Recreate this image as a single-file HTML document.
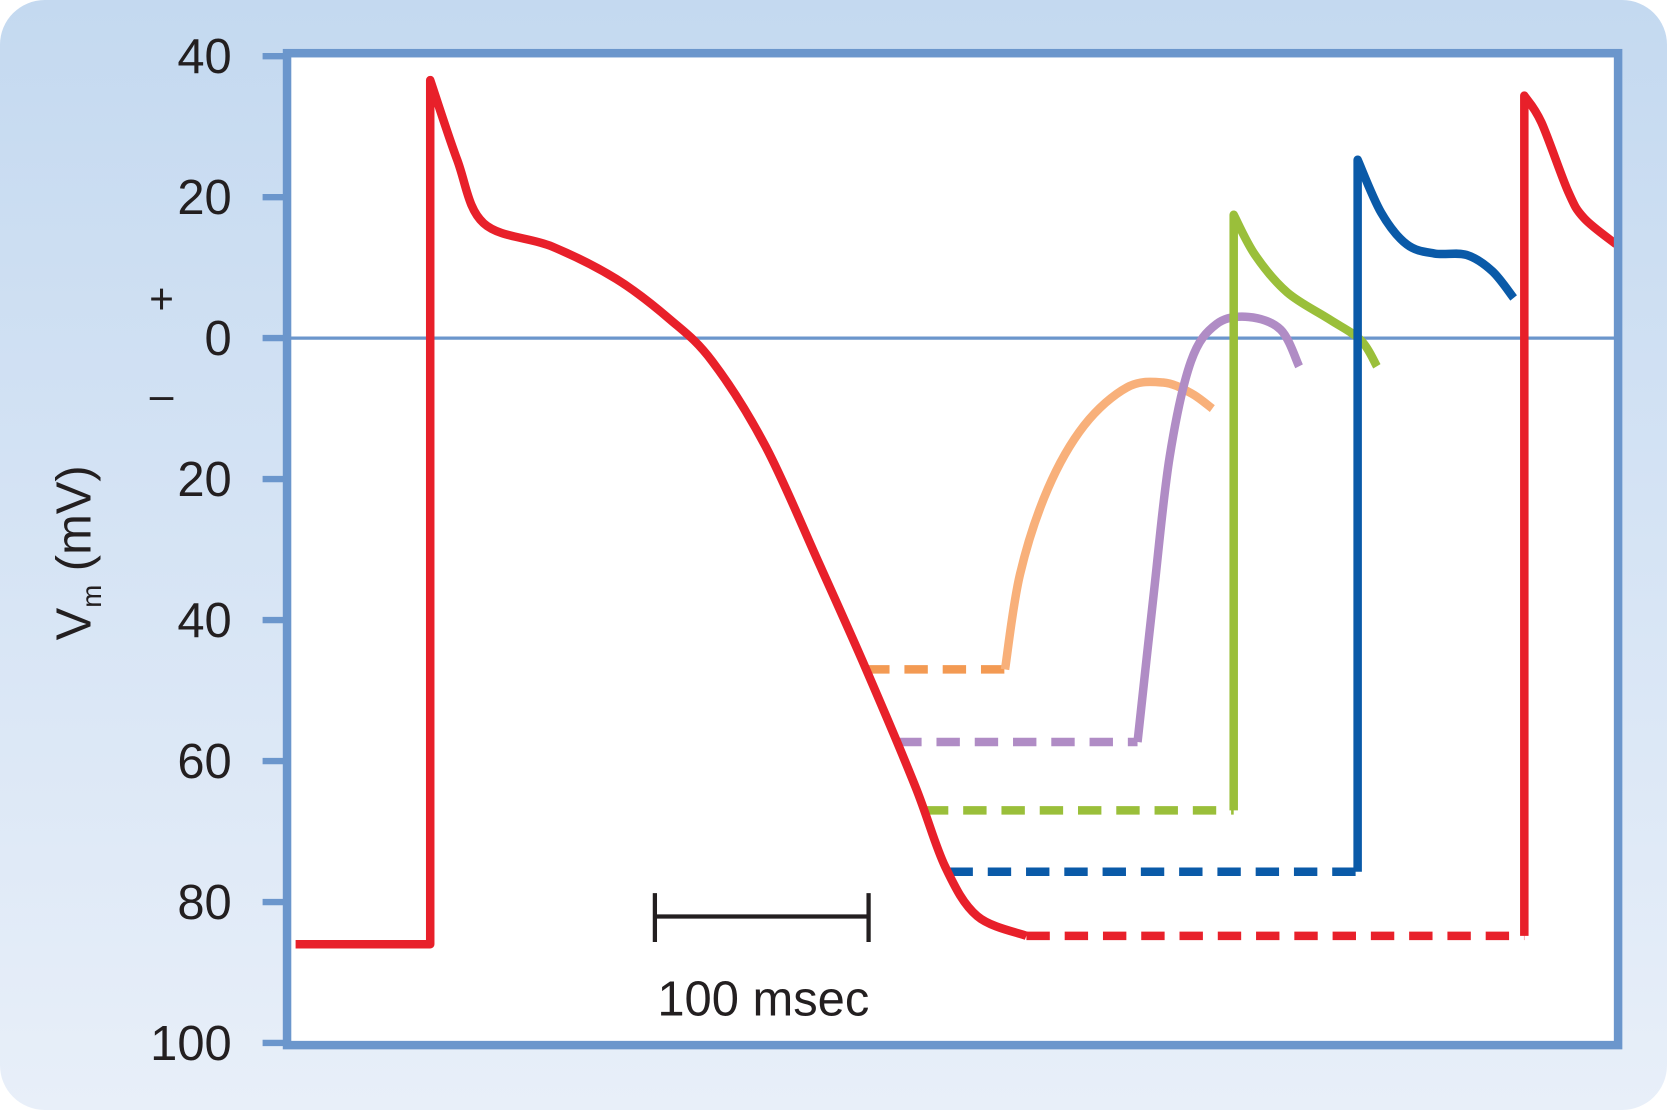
<!DOCTYPE html>
<html><head><meta charset="utf-8"><style>
html,body{margin:0;padding:0;background:#fff}
svg{display:block}
text{font-family:"Liberation Sans",sans-serif;fill:#231f20}
</style></head><body>
<svg id="chart" width="1667" height="1110" viewBox="0 0 1568 1044">
<defs><linearGradient id="bg" x1="0" y1="0" x2="0" y2="1"><stop offset="0" stop-color="#c4d9f0"/><stop offset="1" stop-color="#e8eff9"/></linearGradient>
<clipPath id="pc"><rect x="270" y="50" width="1252" height="933"/></clipPath></defs>
<rect x="0" y="0" width="1568" height="1044" rx="42" fill="url(#bg)"/>
<rect x="270" y="50" width="1252" height="933" fill="#fff"/>
<g id="axes"></g>
<g id="series" clip-path="url(#pc)"></g>
<rect x="270" y="50" width="1252" height="933" fill="none" stroke="#6b96cc" stroke-width="8"/>
<text x="152" y="295" font-size="40" text-anchor="middle">+</text>
<text x="152" y="385" font-size="40" text-anchor="middle">–</text>
<text transform="translate(85,520) rotate(-90)" font-size="46" text-anchor="middle">V<tspan font-size="26" dy="10">m</tspan><tspan dy="-10"> (mV)</tspan></text>
<g>
<line x1="616" y1="862" x2="817" y2="862" stroke="#231f20" stroke-width="4"/>
<line x1="616" y1="840" x2="616" y2="886" stroke="#231f20" stroke-width="4"/>
<line x1="817" y1="840" x2="817" y2="886" stroke="#231f20" stroke-width="4"/>
<text x="718" y="955" font-size="46" text-anchor="middle">100 msec</text>
</g>
</svg>
<script>
const tickValues=[40,20,0,-20,-40,-60,-80,-100];
const tickLabels=["40","20","0","20","40","60","80","100"];
const redT=[4,67,67,79.6,92,124,154,179,199,224,249,271,294,308,323,346];
const redV=[-86,-86,36.6,25.3,16.3,13,8.4,2.7,-3.3,-15.4,-32,-47,-63.6,-75,-82,-84.8];
const redDashT=[346,579];
const redDashV=[-84.8,-84.8];
const red2T=[579,579,587,599.5,607,622];
const red2V=[-84.8,34.4,30.6,20.8,17,13.3];
const orangeDashT=[271,336];
const orangeDashV=[-47,-47];
const orangeT=[336,343,356,373,393,410,423,433];
const orangeV=[-47,-33.5,-21.4,-12.4,-7,-6.3,-7.8,-10];
const purpleDashT=[286,398];
const purpleDashV=[-57.3,-57.3];
const purpleT=[398,405.5,413,423,435,450,465,473.6];
const purpleV=[-57.3,-36.5,-16.9,-3.3,2,3,1.2,-4];
const greenDashT=[298.5,443];
const greenDashV=[-67,-67];
const greenT=[443,443,453,468,487.6,502.5,510];
const greenV=[-67,17.5,11.8,6.5,2.7,-0.3,-4];
const blueDashT=[310,501];
const blueDashV=[-75.7,-75.7];
const blueT=[501,501,512,524,537,552,564,574];
const blueV=[-75.7,25.3,17.8,13.3,12,11.8,9.5,5.7];

const NS="http://www.w3.org/2000/svg";
const X=t=>270+t*2.01;
const Y=v=>318-v*6.63;
const axes=document.getElementById('axes');
const ser=document.getElementById('series');
tickValues.forEach((v,i)=>{
  const l=document.createElementNS(NS,'line');
  l.setAttribute('x1',247);l.setAttribute('x2',270);l.setAttribute('y1',Y(v));l.setAttribute('y2',Y(v));
  l.setAttribute('stroke','#6b96cc');l.setAttribute('stroke-width','6');
  
  
  axes.appendChild(l);
  const t=document.createElementNS(NS,'text');
  t.setAttribute('x',218);t.setAttribute('y',Y(v)+16);t.setAttribute('font-size','46');t.setAttribute('text-anchor','end');
  t.textContent=tickLabels[i];
  
  
  axes.appendChild(t);
});
const z=document.createElementNS(NS,'line');
z.setAttribute('x1',270);z.setAttribute('x2',1522);z.setAttribute('y1',Y(0));z.setAttribute('y2',Y(0));
z.setAttribute('stroke','#6b96cc');z.setAttribute('stroke-width','3');


axes.appendChild(z);

function smooth(ts,vs){
  const p=ts.map((t,i)=>[X(t),Y(vs[i])]);
  let d='M'+p[0][0]+','+p[0][1];
  for(let i=1;i<p.length;i++){
    const p1=p[i-1],p2=p[i];
    if(Math.abs(p1[0]-p2[0])<0.5||Math.abs(p1[1]-p2[1])<0.5&&i===1){d+=' L'+p2[0]+','+p2[1];continue;}
    let a=p[i-2]||p1; if(Math.abs(a[0]-p1[0])<0.5) a=p1;
    let b=p[i+1]||p2; if(Math.abs(b[0]-p2[0])<0.5) b=p2;
    const c1=[p1[0]+(p2[0]-a[0])/6,p1[1]+(p2[1]-a[1])/6];
    const c2=[p2[0]-(b[0]-p1[0])/6,p2[1]-(b[1]-p1[1])/6];
    d+=' C'+c1[0]+','+c1[1]+' '+c2[0]+','+c2[1]+' '+p2[0]+','+p2[1];
  }
  return d;
}
function draw(ts,vs,color,dashed,name){
  const p=document.createElementNS(NS,'path');
  p.setAttribute('d',dashed?('M'+X(ts[0])+','+Y(vs[0])+' L'+X(ts[1])+','+Y(vs[1])):smooth(ts,vs));
  p.setAttribute('fill','none');p.setAttribute('stroke',color);p.setAttribute('stroke-width','8');
  p.setAttribute('stroke-linejoin','round');
  if(dashed)p.setAttribute('stroke-dasharray','22 14');
  
  
  ser.appendChild(p);
}
draw(orangeDashT,orangeDashV,'#f39a53',true,'orange-threshold-dashed');
draw(orangeT,orangeV,'#f8b07a',false,'orange-response');
draw(purpleDashT,purpleDashV,'#b08cc5',true,'purple-threshold-dashed');
draw(purpleT,purpleV,'#b08cc5',false,'purple-response');
draw(greenDashT,greenDashV,'#9abf3a',true,'green-threshold-dashed');
draw(greenT,greenV,'#9abf3a',false,'green-action-potential');
draw(blueDashT,blueDashV,'#0a5aa8',true,'blue-threshold-dashed');
draw(blueT,blueV,'#0a5aa8',false,'blue-action-potential');
draw(redDashT,redDashV,'#e8202a',true,'red-resting-dashed');
draw(redT,redV,'#e8202a',false,'red-action-potential');
draw(red2T,red2V,'#e8202a',false,'red-second-action-potential');
</script>
</body></html>
